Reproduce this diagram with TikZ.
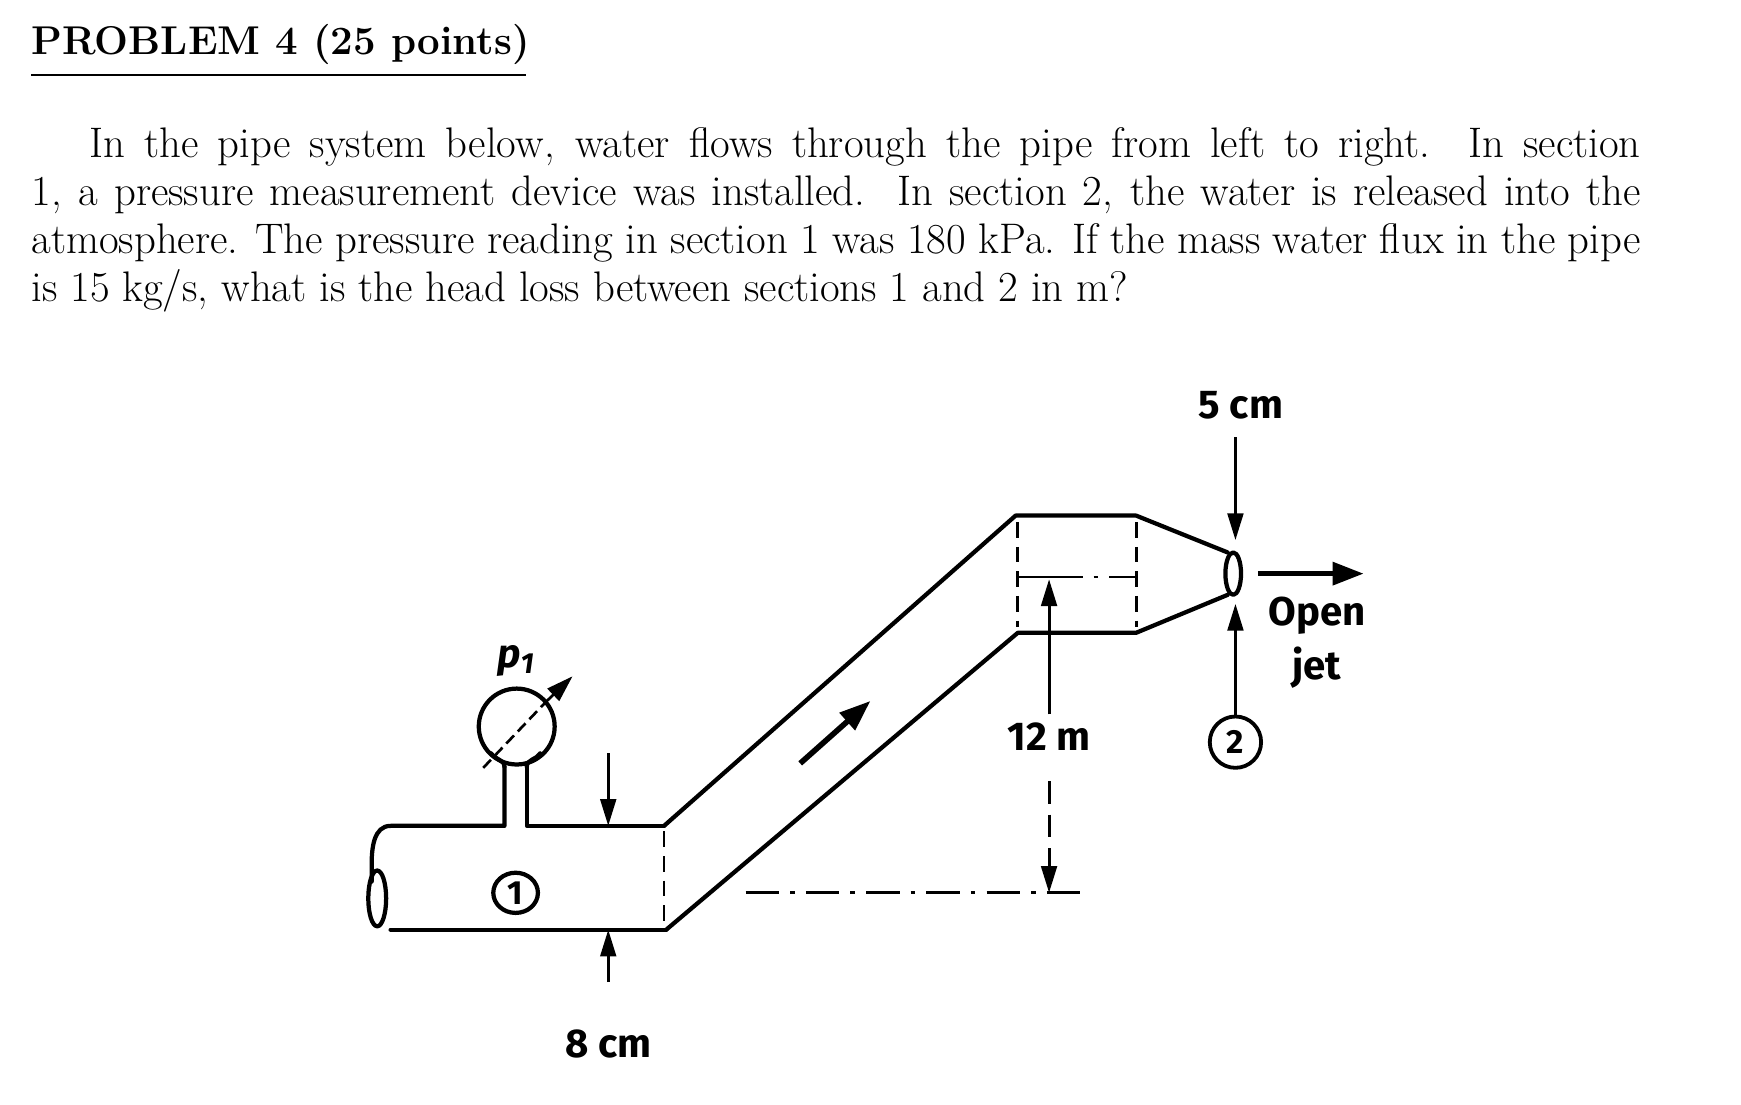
\documentclass[tikz,border=0pt]{standalone}
\usepackage{fontspec}
\newfontfamily\lbl{Fira Sans}
\usetikzlibrary{arrows.meta,shapes.geometric}
\begin{document}
\begin{tikzpicture}[x=1pt,y=-1pt,
  pipe/.style={line width=3.8pt,line join=round,line cap=round},
  dim/.style={line width=2.8pt,-{Triangle[length=24pt,width=14pt]}},
  dsh/.style={line width=2.6pt,dash pattern=on 14pt off 8pt},
  dashdot/.style={line width=2.6pt,dash pattern=on 30pt off 10pt on 4pt off 10pt},
  lab/.style={font=\lbl\bfseries\fontsize{36}{40}\selectfont,inner sep=0pt}]
\useasboundingbox (0,0) rectangle (1560,990);
% title
\node[anchor=south west,inner sep=0pt,font=\bfseries\fontsize{36}{42}\selectfont] (title) at (28,58) {PROBLEM 4 (25 points)};
\draw[line width=1.6pt] (28,67) -- (471,67);
\node[anchor=north west,inner sep=0pt,text width=1442pt,align=justify,font=\fontsize{38.3}{43}\selectfont] (txt) at (28,114)
{\hspace*{52pt}In the pipe system below, water flows through the pipe from left to right.\ \ In section 1, a pressure measurement device was installed.\ \ In section 2, the water is released into the atmosphere. The pressure reading in section 1 was 180 kPa. If the mass water flux in the pipe is 15 kg/s, what is the head loss between sections 1 and 2 in m?};
% horizontal pipe
\draw[pipe] (452,687) -- (452,740) -- (350,740) to[out=180,in=90] (333,775) -- (333,790);
\draw[pipe] (472,687) -- (472,740) -- (595,740);
\draw[pipe] (350,833) -- (597,833);
\draw[pipe] (338,805) ellipse (8 and 25);
\draw[pipe] (452,687) to[out=90,in=-60] (440,675);
\draw[pipe] (472,687) to[out=90,in=240] (484,675);
\node[draw,circle,line width=3.8pt,minimum size=68pt,inner sep=0pt] (gauge) at (463,651) {};
\draw[line width=2.4pt,dash pattern=on 10pt off 5pt] (433,688) -- (490,628);
\draw[line width=2.4pt,-{Triangle[length=24pt,width=15pt]}] (488,630) -- (513,606);
\node[font=\lbl\bfseries\itshape\fontsize{36}{40}\selectfont,inner sep=0pt] (p1) at (462,592) {p\raisebox{-6pt}{\fontsize{26}{26}\selectfont 1}};
\node[draw,ellipse,line width=3.8pt,minimum width=40pt,minimum height=36pt,inner sep=0pt,font=\lbl\bfseries\fontsize{30}{30}\selectfont] (s1) at (462,800) {1};
% 8 cm
\coordinate (a1) at (545,675); \coordinate (a1e) at (545,740);
\coordinate (b1) at (545,880); \coordinate (b1e) at (545,833);
\draw[dim] (a1) -- (a1e);
\draw[dim] (b1) -- (b1e);
\node[lab] (l8) at (545,935) {8 cm};
\draw[dsh] (595,745) -- (595,830);
% inclined pipe
\draw[pipe] (595,740) -- (910,462) -- (1018,462) -- (1100,495);
\draw[pipe] (597,833) -- (912,567) -- (1018,567) -- (1100,533);
\draw[pipe] (1105,514) ellipse (7 and 19);
\draw[dsh] (912,468) -- (912,562);
\draw[dsh] (1018,468) -- (1018,562);
\draw[line width=2.6pt] (912,517) -- (940,517);
\draw[dashdot] (940,517) -- (1018,517);
% flow arrow
\draw[line width=5pt,-{Triangle[length=28pt,width=20pt]}] (717,684) -- (780,628);
% 12 m
\coordinate (m1) at (940,640); \coordinate (m1e) at (940,519);
\coordinate (m2) at (940,700); \coordinate (m2e) at (940,800);
\draw[dim] (m1) -- (m1e);
\draw[line width=2.6pt,dash pattern=on 20pt off 10pt] (m2) -- (940,760);
\draw[dim] (940,760) -- (m2e);
\node[lab] (l12) at (940,660) {12 m};
\draw[dashdot] (668,800) -- (975,800);
% 5 cm
\node[lab] (l5) at (1112,363) {5 cm};
\draw[dim] (1107,392) -- (1107,484);
\node[draw,circle,line width=3.4pt,minimum size=46pt,inner sep=0pt,font=\lbl\bfseries\fontsize{30}{30}\selectfont] (s2) at (1107,665) {2};
\draw[dim] (s2) -- (1107,541);
\draw[line width=5pt,-{Triangle[length=28pt,width=20pt]}] (1127,514) -- (1222,514);
\node[lab,align=center,font=\lbl\bfseries\fontsize{36}{48}\selectfont] (jet) at (1180,576) {Open\\jet};
\end{tikzpicture}
\end{document}
